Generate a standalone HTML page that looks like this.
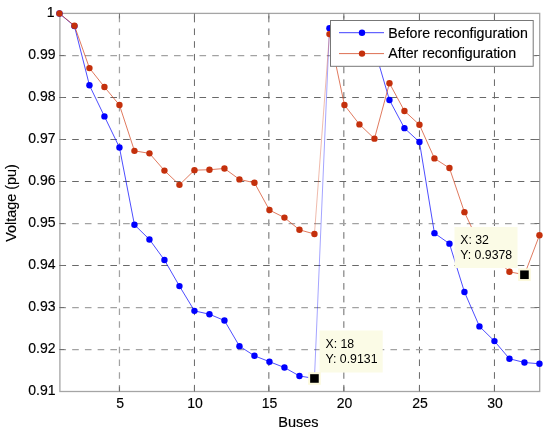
<!DOCTYPE html><html><head><meta charset="utf-8"><style>html,body{margin:0;padding:0;background:#fff;}svg{display:block;}text{font-family:"Liberation Sans",Arial,sans-serif;font-size:14px;fill:#000;stroke:#000;stroke-width:0.15px;}</style></head><body>
<svg width="550" height="434" viewBox="0 0 550 434">
<rect width="550" height="434" fill="#fff"/>
<line x1="119.45" y1="391.5" x2="119.45" y2="13.5" stroke="#a2a2a2" stroke-width="1.25" stroke-dasharray="6.6 6.13"/>
<line x1="194.45" y1="391.5" x2="194.45" y2="13.5" stroke="#686868" stroke-width="1" stroke-dasharray="6.6 6.13"/>
<line x1="268.85" y1="391.5" x2="268.85" y2="13.5" stroke="#686868" stroke-width="1" stroke-dasharray="6.6 6.13"/>
<line x1="343.85" y1="391.5" x2="343.85" y2="13.5" stroke="#686868" stroke-width="1" stroke-dasharray="6.6 6.13"/>
<line x1="419.45" y1="391.5" x2="419.45" y2="13.5" stroke="#686868" stroke-width="1" stroke-dasharray="6.6 6.13"/>
<line x1="494.45" y1="391.5" x2="494.45" y2="13.5" stroke="#686868" stroke-width="1" stroke-dasharray="6.6 6.13"/>
<line x1="59.45" y1="349.50" x2="539.45" y2="349.50" stroke="#a2a2a2" stroke-width="1.25" stroke-dasharray="6.6 6.13"/>
<line x1="59.45" y1="307.50" x2="539.45" y2="307.50" stroke="#a2a2a2" stroke-width="1.25" stroke-dasharray="6.6 6.13"/>
<line x1="59.45" y1="265.50" x2="539.45" y2="265.50" stroke="#686868" stroke-width="1" stroke-dasharray="6.6 6.13"/>
<line x1="59.45" y1="223.50" x2="539.45" y2="223.50" stroke="#a2a2a2" stroke-width="1.25" stroke-dasharray="6.6 6.13"/>
<line x1="59.45" y1="181.50" x2="539.45" y2="181.50" stroke="#686868" stroke-width="1" stroke-dasharray="6.6 6.13"/>
<line x1="59.45" y1="139.50" x2="539.45" y2="139.50" stroke="#686868" stroke-width="1" stroke-dasharray="6.6 6.13"/>
<line x1="59.45" y1="97.50" x2="539.45" y2="97.50" stroke="#686868" stroke-width="1" stroke-dasharray="6.6 6.13"/>
<line x1="59.45" y1="55.50" x2="539.45" y2="55.50" stroke="#a2a2a2" stroke-width="1.25" stroke-dasharray="6.6 6.13"/>
<rect x="59.9" y="13.4" width="479.8" height="378.1" fill="none" stroke="#a5a5a5" stroke-width="1.3"/>
<line x1="119.45" y1="391.5" x2="119.45" y2="386.5" stroke="#707070" stroke-width="1"/>
<line x1="119.45" y1="13.5" x2="119.45" y2="18.5" stroke="#707070" stroke-width="1"/>
<line x1="194.45" y1="391.5" x2="194.45" y2="386.5" stroke="#707070" stroke-width="1"/>
<line x1="194.45" y1="13.5" x2="194.45" y2="18.5" stroke="#707070" stroke-width="1"/>
<line x1="268.85" y1="391.5" x2="268.85" y2="386.5" stroke="#707070" stroke-width="1"/>
<line x1="268.85" y1="13.5" x2="268.85" y2="18.5" stroke="#707070" stroke-width="1"/>
<line x1="343.85" y1="391.5" x2="343.85" y2="386.5" stroke="#707070" stroke-width="1"/>
<line x1="343.85" y1="13.5" x2="343.85" y2="18.5" stroke="#707070" stroke-width="1"/>
<line x1="419.45" y1="391.5" x2="419.45" y2="386.5" stroke="#707070" stroke-width="1"/>
<line x1="419.45" y1="13.5" x2="419.45" y2="18.5" stroke="#707070" stroke-width="1"/>
<line x1="494.45" y1="391.5" x2="494.45" y2="386.5" stroke="#707070" stroke-width="1"/>
<line x1="494.45" y1="13.5" x2="494.45" y2="18.5" stroke="#707070" stroke-width="1"/>
<line x1="59.45" y1="349.50" x2="64.45" y2="349.50" stroke="#707070" stroke-width="1"/>
<line x1="539.45" y1="349.50" x2="534.45" y2="349.50" stroke="#707070" stroke-width="1"/>
<line x1="59.45" y1="307.50" x2="64.45" y2="307.50" stroke="#707070" stroke-width="1"/>
<line x1="539.45" y1="307.50" x2="534.45" y2="307.50" stroke="#707070" stroke-width="1"/>
<line x1="59.45" y1="265.50" x2="64.45" y2="265.50" stroke="#707070" stroke-width="1"/>
<line x1="539.45" y1="265.50" x2="534.45" y2="265.50" stroke="#707070" stroke-width="1"/>
<line x1="59.45" y1="223.50" x2="64.45" y2="223.50" stroke="#707070" stroke-width="1"/>
<line x1="539.45" y1="223.50" x2="534.45" y2="223.50" stroke="#707070" stroke-width="1"/>
<line x1="59.45" y1="181.50" x2="64.45" y2="181.50" stroke="#707070" stroke-width="1"/>
<line x1="539.45" y1="181.50" x2="534.45" y2="181.50" stroke="#707070" stroke-width="1"/>
<line x1="59.45" y1="139.50" x2="64.45" y2="139.50" stroke="#707070" stroke-width="1"/>
<line x1="539.45" y1="139.50" x2="534.45" y2="139.50" stroke="#707070" stroke-width="1"/>
<line x1="59.45" y1="97.50" x2="64.45" y2="97.50" stroke="#707070" stroke-width="1"/>
<line x1="539.45" y1="97.50" x2="534.45" y2="97.50" stroke="#707070" stroke-width="1"/>
<line x1="59.45" y1="55.50" x2="64.45" y2="55.50" stroke="#707070" stroke-width="1"/>
<line x1="539.45" y1="55.50" x2="534.45" y2="55.50" stroke="#707070" stroke-width="1"/>
<text x="55.5" y="395.00" text-anchor="end">0.91</text>
<text x="55.5" y="353.00" text-anchor="end">0.92</text>
<text x="55.5" y="311.00" text-anchor="end">0.93</text>
<text x="55.5" y="269.00" text-anchor="end">0.94</text>
<text x="55.5" y="227.00" text-anchor="end">0.95</text>
<text x="55.5" y="185.00" text-anchor="end">0.96</text>
<text x="55.5" y="143.00" text-anchor="end">0.97</text>
<text x="55.5" y="101.00" text-anchor="end">0.98</text>
<text x="55.5" y="59.00" text-anchor="end">0.99</text>
<text x="54.6" y="17.00" text-anchor="end">1</text>
<text x="120.05" y="407.7" text-anchor="middle">5</text>
<text x="195.05" y="407.7" text-anchor="middle">10</text>
<text x="269.45" y="407.7" text-anchor="middle">15</text>
<text x="344.45" y="407.7" text-anchor="middle">20</text>
<text x="420.05" y="407.7" text-anchor="middle">25</text>
<text x="495.05" y="407.7" text-anchor="middle">30</text>
<text x="298.4" y="426.9" text-anchor="middle" style="font-size:14.5px">Buses</text>
<text transform="translate(16.3,202.9) rotate(-90)" text-anchor="middle" style="font-size:14.4px">Voltage (pu)</text>
<polyline points="59.45,13.50 74.45,26.10 89.45,85.32 104.45,116.40 119.45,147.48 134.45,224.76 149.45,239.46 164.45,260.04 179.45,286.08 194.45,310.86 209.45,314.22 224.45,320.52 239.45,346.14 254.45,355.80 269.45,361.68 284.45,367.56 299.45,375.96 314.45,378.48" fill="none" stroke="#0000ff" stroke-width="0.7"/>
<polyline points="329.45,28.20 344.45,43.32 359.45,46.26 374.45,48.78 389.45,100.02 404.45,128.16 419.45,142.02 434.45,233.16 449.45,243.66 464.45,291.96 479.45,326.40 494.45,341.10 509.45,358.74 524.45,362.52 539.45,363.78" fill="none" stroke="#0000ff" stroke-width="0.7"/>
<line x1="314.45" y1="378.48" x2="329.45" y2="28.20" stroke="#0000ff" stroke-width="0.6" stroke-opacity="0.6"/>
<circle cx="59.45" cy="13.50" r="3.2" fill="#0000ff"/>
<circle cx="74.45" cy="26.10" r="3.2" fill="#0000ff"/>
<circle cx="89.45" cy="85.32" r="3.2" fill="#0000ff"/>
<circle cx="104.45" cy="116.40" r="3.2" fill="#0000ff"/>
<circle cx="119.45" cy="147.48" r="3.2" fill="#0000ff"/>
<circle cx="134.45" cy="224.76" r="3.2" fill="#0000ff"/>
<circle cx="149.45" cy="239.46" r="3.2" fill="#0000ff"/>
<circle cx="164.45" cy="260.04" r="3.2" fill="#0000ff"/>
<circle cx="179.45" cy="286.08" r="3.2" fill="#0000ff"/>
<circle cx="194.45" cy="310.86" r="3.2" fill="#0000ff"/>
<circle cx="209.45" cy="314.22" r="3.2" fill="#0000ff"/>
<circle cx="224.45" cy="320.52" r="3.2" fill="#0000ff"/>
<circle cx="239.45" cy="346.14" r="3.2" fill="#0000ff"/>
<circle cx="254.45" cy="355.80" r="3.2" fill="#0000ff"/>
<circle cx="269.45" cy="361.68" r="3.2" fill="#0000ff"/>
<circle cx="284.45" cy="367.56" r="3.2" fill="#0000ff"/>
<circle cx="299.45" cy="375.96" r="3.2" fill="#0000ff"/>
<circle cx="314.45" cy="378.48" r="3.2" fill="#0000ff"/>
<circle cx="329.45" cy="28.20" r="3.2" fill="#0000ff"/>
<circle cx="344.45" cy="43.32" r="3.2" fill="#0000ff"/>
<circle cx="359.45" cy="46.26" r="3.2" fill="#0000ff"/>
<circle cx="374.45" cy="48.78" r="3.2" fill="#0000ff"/>
<circle cx="389.45" cy="100.02" r="3.2" fill="#0000ff"/>
<circle cx="404.45" cy="128.16" r="3.2" fill="#0000ff"/>
<circle cx="419.45" cy="142.02" r="3.2" fill="#0000ff"/>
<circle cx="434.45" cy="233.16" r="3.2" fill="#0000ff"/>
<circle cx="449.45" cy="243.66" r="3.2" fill="#0000ff"/>
<circle cx="464.45" cy="291.96" r="3.2" fill="#0000ff"/>
<circle cx="479.45" cy="326.40" r="3.2" fill="#0000ff"/>
<circle cx="494.45" cy="341.10" r="3.2" fill="#0000ff"/>
<circle cx="509.45" cy="358.74" r="3.2" fill="#0000ff"/>
<circle cx="524.45" cy="362.52" r="3.2" fill="#0000ff"/>
<circle cx="539.45" cy="363.78" r="3.2" fill="#0000ff"/>
<polyline points="59.45,13.50 74.45,25.68 89.45,68.10 104.45,87.00 119.45,105.06 134.45,150.84 149.45,153.36 164.45,170.58 179.45,184.86 194.45,170.16 209.45,169.74 224.45,168.48 239.45,179.40 254.45,182.76 269.45,210.06 284.45,217.62 299.45,229.80 314.45,234.00" fill="none" stroke="#d2401a" stroke-width="0.7"/>
<polyline points="329.45,34.08 344.45,105.06 359.45,124.38 374.45,138.66 389.45,83.22 404.45,110.94 419.45,124.80 434.45,158.40 449.45,168.06 464.45,212.16 479.45,244.08 494.45,257.52 509.45,271.80 524.45,274.74 539.45,235.26" fill="none" stroke="#d2401a" stroke-width="0.7"/>
<line x1="314.45" y1="234.00" x2="329.45" y2="34.08" stroke="#d2401a" stroke-width="0.6" stroke-opacity="0.6"/>
<circle cx="59.45" cy="13.50" r="3.2" fill="#c4300c"/>
<circle cx="74.45" cy="25.68" r="3.2" fill="#c4300c"/>
<circle cx="89.45" cy="68.10" r="3.2" fill="#c4300c"/>
<circle cx="104.45" cy="87.00" r="3.2" fill="#c4300c"/>
<circle cx="119.45" cy="105.06" r="3.2" fill="#c4300c"/>
<circle cx="134.45" cy="150.84" r="3.2" fill="#c4300c"/>
<circle cx="149.45" cy="153.36" r="3.2" fill="#c4300c"/>
<circle cx="164.45" cy="170.58" r="3.2" fill="#c4300c"/>
<circle cx="179.45" cy="184.86" r="3.2" fill="#c4300c"/>
<circle cx="194.45" cy="170.16" r="3.2" fill="#c4300c"/>
<circle cx="209.45" cy="169.74" r="3.2" fill="#c4300c"/>
<circle cx="224.45" cy="168.48" r="3.2" fill="#c4300c"/>
<circle cx="239.45" cy="179.40" r="3.2" fill="#c4300c"/>
<circle cx="254.45" cy="182.76" r="3.2" fill="#c4300c"/>
<circle cx="269.45" cy="210.06" r="3.2" fill="#c4300c"/>
<circle cx="284.45" cy="217.62" r="3.2" fill="#c4300c"/>
<circle cx="299.45" cy="229.80" r="3.2" fill="#c4300c"/>
<circle cx="314.45" cy="234.00" r="3.2" fill="#c4300c"/>
<circle cx="329.45" cy="34.08" r="3.2" fill="#c4300c"/>
<circle cx="344.45" cy="105.06" r="3.2" fill="#c4300c"/>
<circle cx="359.45" cy="124.38" r="3.2" fill="#c4300c"/>
<circle cx="374.45" cy="138.66" r="3.2" fill="#c4300c"/>
<circle cx="389.45" cy="83.22" r="3.2" fill="#c4300c"/>
<circle cx="404.45" cy="110.94" r="3.2" fill="#c4300c"/>
<circle cx="419.45" cy="124.80" r="3.2" fill="#c4300c"/>
<circle cx="434.45" cy="158.40" r="3.2" fill="#c4300c"/>
<circle cx="449.45" cy="168.06" r="3.2" fill="#c4300c"/>
<circle cx="464.45" cy="212.16" r="3.2" fill="#c4300c"/>
<circle cx="479.45" cy="244.08" r="3.2" fill="#c4300c"/>
<circle cx="494.45" cy="257.52" r="3.2" fill="#c4300c"/>
<circle cx="509.45" cy="271.80" r="3.2" fill="#c4300c"/>
<circle cx="524.45" cy="274.74" r="3.2" fill="#c4300c"/>
<circle cx="539.45" cy="235.26" r="3.2" fill="#c4300c"/>
<rect x="330.5" y="20.5" width="202.7" height="45.8" fill="#fff" stroke="#777" stroke-width="1"/>
<line x1="339" y1="32.7" x2="384" y2="32.7" stroke="#0000ff" stroke-width="0.75"/>
<circle cx="362" cy="32.7" r="3.2" fill="#0000ff"/>
<line x1="339" y1="53.6" x2="384" y2="53.6" stroke="#d2401a" stroke-width="0.75"/>
<circle cx="362" cy="53.6" r="3.2" fill="#c4300c"/>
<text x="388.3" y="37.6" style="font-size:14.2px">Before reconfiguration</text>
<text x="388.3" y="58.2" style="font-size:14.2px">After reconfiguration</text>
<rect x="319.5" y="330.5" width="63.2" height="42" fill="#fbfbe6"/>
<rect x="308.15" y="372.18" width="12.6" height="12.6" fill="#fcf9dc"/>
<rect x="310.15" y="374.18" width="8.6" height="8.6" fill="#000"/>
<text x="325.5" y="347.7" style="font-size:12.3px;stroke:none">X: 18</text>
<text x="325.5" y="362.9" style="font-size:12.3px;stroke:none">Y: 0.9131</text>
<rect x="454.5" y="227" width="63" height="41" fill="#fbfbe6"/>
<rect x="518.15" y="268.44" width="12.6" height="12.6" fill="#fcf9dc"/>
<rect x="520.15" y="270.44" width="8.6" height="8.6" fill="#000"/>
<text x="460.2" y="243.7" style="font-size:12.3px;stroke:none">X: 32</text>
<text x="460.2" y="259.2" style="font-size:12.3px;stroke:none">Y: 0.9378</text>
</svg></body></html>
